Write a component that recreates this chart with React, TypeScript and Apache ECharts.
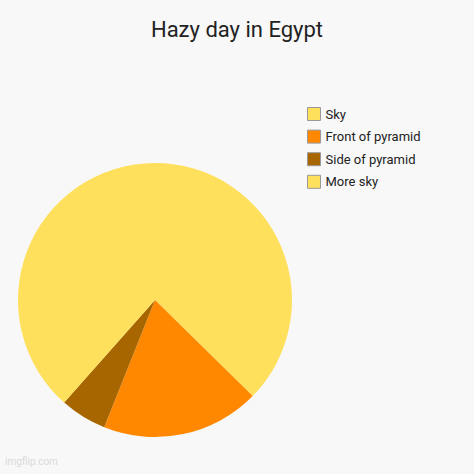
import * as echarts from 'echarts'
import { useEffect, useRef } from 'react'

// slice names, values and colours, in drawing order (clockwise from 12 o'clock)
const categories = ['Sky', 'Front of pyramid', 'Side of pyramid', 'More sky']
const values = [34, 17, 5, 35]
const colors = ['#FFE05C', '#FF8800', '#A86600', '#FFE05C']

const App = () => {
	const chartRef = useRef(null)

	useEffect(() => {
		document.body.style.margin = '0'
		const myChart = echarts.init(chartRef.current, null, { renderer: 'svg' })

		const option = {
			animation: false,
			backgroundColor: '#F8F8F8',
			textStyle: { fontFamily: 'Roboto' },
			title: {
				text: 'Hazy day in Egypt',
				left: 'center',
				top: 13,
				textStyle: {
					fontFamily: 'Roboto',
					fontSize: 22,
					fontWeight: 'normal',
					color: '#222',
				},
			},
			legend: {
				orient: 'vertical',
				left: 307,
				top: 107,
				padding: 0,
				itemWidth: 13,
				itemHeight: 13,
				itemGap: 8.6,
				icon: 'rect',
				selectedMode: false,
				itemStyle: { borderColor: '#999', borderWidth: 1 },
				textStyle: { fontFamily: 'Roboto', fontSize: 13, color: '#222' },
				data: categories,
			},
			graphic: [
				{
					type: 'text',
					left: 5,
					top: 456,
					style: { text: 'imgflip.com', fontSize: 10, fontFamily: 'Roboto', fill: '#DADADA' },
				},
			],
			series: [
				{
					type: 'pie',
					center: [155, 300],
					radius: 137,
					startAngle: 90,
					clockwise: true,
					silent: true,
					label: { show: false },
					labelLine: { show: false },
					data: categories.map((name, i) => ({
						name,
						value: values[i],
						itemStyle: { color: colors[i] },
					})),
				},
			],
		}

		myChart.setOption(option)

		const handleResize = () => myChart.resize()
		window.addEventListener('resize', handleResize)

		return () => {
			myChart.dispose()
			window.removeEventListener('resize', handleResize)
		}
	}, [])

	return <div ref={chartRef} style={{ width: '474px', height: '474px' }} />
}

export default App
